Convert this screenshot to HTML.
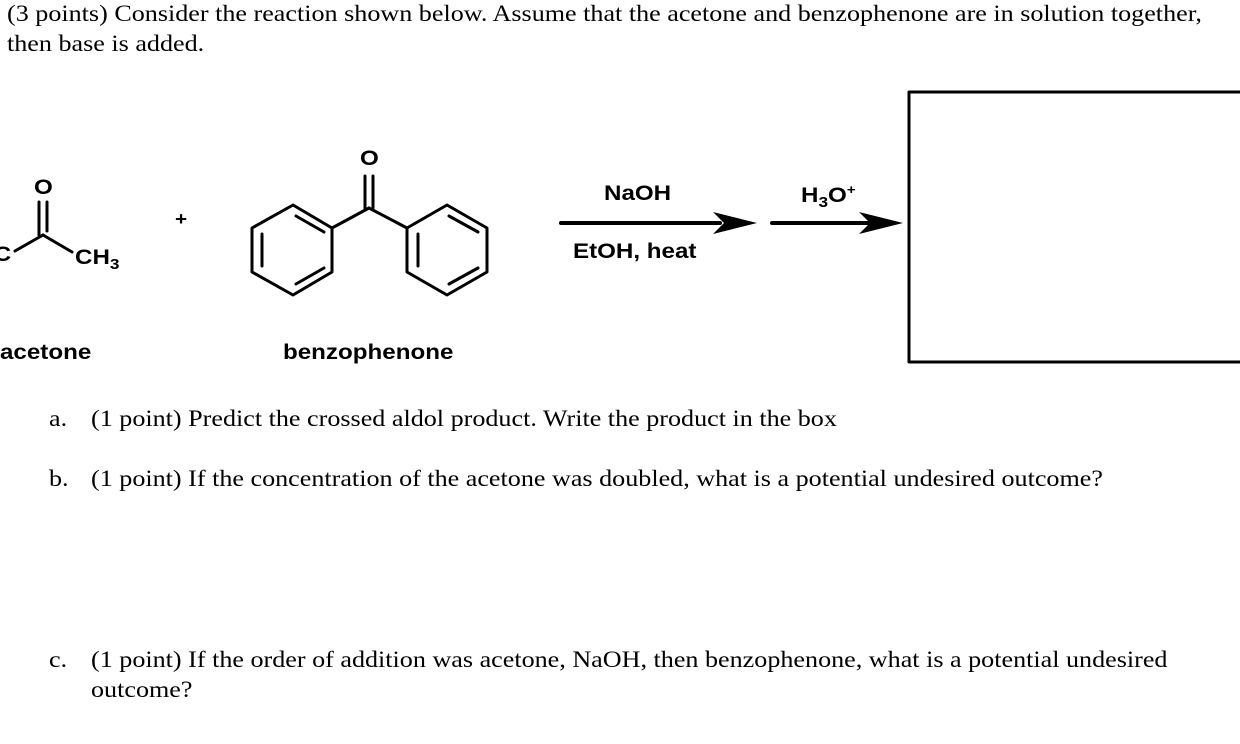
<!DOCTYPE html>
<html><head><meta charset="utf-8"><style>
html,body{margin:0;padding:0;background:#fff;}
body{width:1240px;height:744px;position:relative;overflow:hidden;font-family:"Liberation Serif",serif;color:#000;}
.t{position:absolute;font-size:23px;line-height:24px;white-space:nowrap;transform:scaleX(1.135);transform-origin:0 0;}
.s{position:absolute;font-family:"Liberation Sans",sans-serif;font-weight:bold;font-size:21px;white-space:nowrap;transform:scaleX(1.15);transform-origin:0 0;}
</style></head><body>
<div class="t" style="left:7px;top:2px;">(3 points) Consider the reaction shown below. Assume that the acetone and benzophenone are in solution together,</div>
<div class="t" style="left:7px;top:32px;">then base is added.</div>

<svg width="1240" height="744" style="position:absolute;left:0;top:0" xmlns="http://www.w3.org/2000/svg">
<g stroke="#000" stroke-width="3" fill="none" stroke-linecap="round" stroke-linejoin="round">
<line x1="39" y1="202" x2="39" y2="235"/>
<line x1="47" y1="202" x2="47" y2="231"/>
<line x1="43" y1="235" x2="15" y2="251"/>
<line x1="43" y1="235" x2="72" y2="252"/>
<line x1="365" y1="176" x2="365" y2="208"/>
<line x1="373" y1="176" x2="373" y2="208"/>
<line x1="369" y1="208" x2="332" y2="228"/>
<line x1="369" y1="208" x2="407" y2="228"/>
<polygon points="293,205 332,228 332,272 293,295 252,272 252,228"/>
<line x1="296" y1="216" x2="324" y2="232"/>
<line x1="262" y1="234" x2="262" y2="266"/>
<line x1="296" y1="284" x2="324" y2="268"/>
<polygon points="447,205 487,228 487,272 447,295 407,272 407,228"/>
<line x1="449" y1="216" x2="478" y2="232"/>
<line x1="418" y1="234" x2="418" y2="266"/>
<line x1="449" y1="284" x2="478" y2="268"/>
<line x1="561" y1="223" x2="720" y2="223" stroke-width="4"/>
<line x1="772" y1="223" x2="870" y2="223" stroke-width="4"/>
<polyline points="1245,92 909,92 909,362 1245,362"/>
</g>
<polygon points="713,212 757,223 713,234 724,223" fill="#000"/>
<polygon points="859,212 903,223 859,234 870,223" fill="#000"/>
</svg>

<div class="s" style="left:34px;top:176px;">O</div>
<div class="s" style="left:0px;top:243px;width:10px;overflow:hidden;direction:rtl;">C</div>
<div class="s" style="left:75px;top:246px;">CH<span style="font-size:15px;position:relative;top:5px;">3</span></div>
<div class="s" style="left:175px;top:209px;font-size:18px;">+</div>
<div class="s" style="left:360px;top:147px;">O</div>
<div class="s" style="left:604px;top:182px;">NaOH</div>
<div class="s" style="left:573px;top:240px;">EtOH, heat</div>
<div class="s" style="left:801px;top:184px;">H<span style="font-size:15px;position:relative;top:5px;">3</span>O<span style="font-size:13px;position:relative;top:-8px;">+</span></div>
<div class="s" style="left:0px;top:341px;">acetone</div>
<div class="s" style="left:283px;top:341px;">benzophenone</div>

<div class="t" style="left:49px;top:407px;">a.</div>
<div class="t" style="left:91px;top:407px;">(1 point) Predict the crossed aldol product. Write the product in the box</div>
<div class="t" style="left:49px;top:467px;">b.</div>
<div class="t" style="left:91px;top:467px;">(1 point) If the concentration of the acetone was doubled, what is a potential undesired outcome?</div>
<div class="t" style="left:49px;top:648px;">c.</div>
<div class="t" style="left:91px;top:648px;">(1 point) If the order of addition was acetone, NaOH, then benzophenone, what is a potential undesired</div>
<div class="t" style="left:91px;top:678px;">outcome?</div>
</body></html>
